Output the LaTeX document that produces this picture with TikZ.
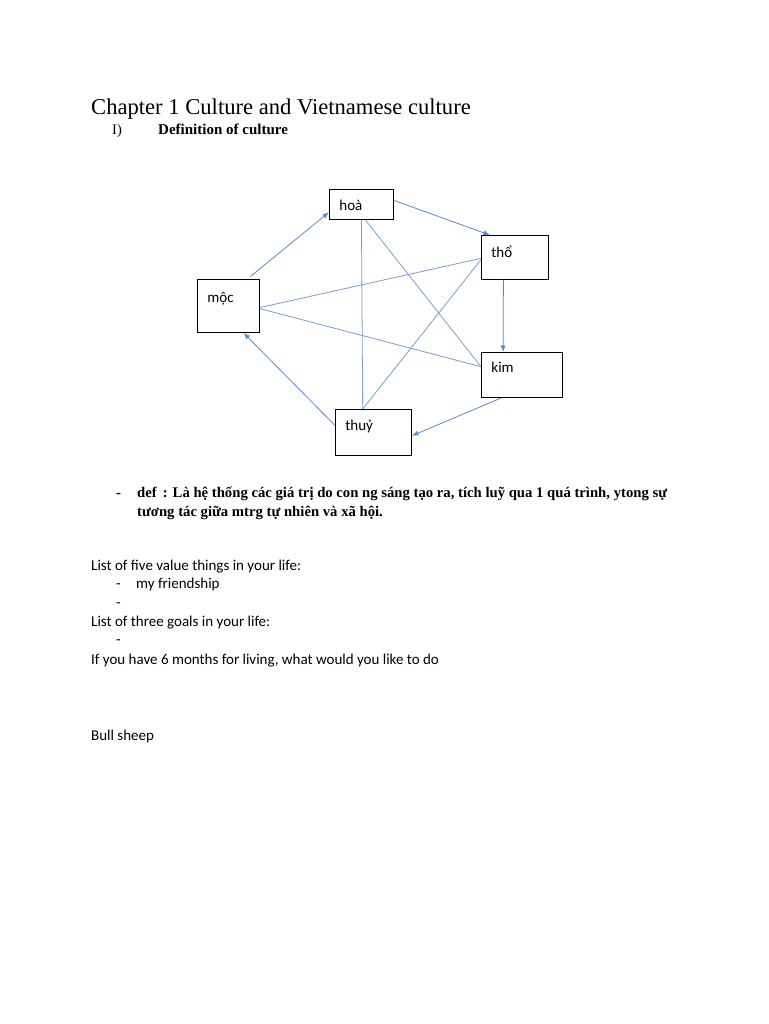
\documentclass[tikz,border=0pt]{standalone}
\usepackage{fontspec}
\setmainfont{Carlito}
\newfontfamily\timesfont{Liberation Serif}
\usetikzlibrary{calc,arrows.meta}
\definecolor{wordblue}{HTML}{4472C4}

\begin{document}
\begin{tikzpicture}[
x=1pt, y=-1pt,
element/.style={
draw,
line width=0.9pt,
anchor=north west,
inner sep=0pt,
inner xsep=10pt,
align=left,
font=\fontsize{15}{18}\selectfont
},
line/.style={
anchor=base west,
inner sep=0pt,
font=\fontsize{15}{18}\selectfont
},
serifline/.style={
anchor=base west,
inner sep=0pt,
font=\timesfont\bfseries\fontsize{14.7}{17}\selectfont
},
link/.style={
draw=wordblue!85,
line width=0.8pt
}
]

\useasboundingbox[fill=white] (0,0) rectangle (768,1024);

\node[anchor=base west, inner sep=0pt, font=\timesfont\fontsize{22.6}{26}\selectfont] (title) at (91,115)
{Chapter 1 Culture and Vietnamese culture};

\node[anchor=base west, inner sep=0pt, font=\timesfont\fontsize{14.5}{17}\selectfont] (num) at (112,135)
{I)};

\node[serifline, font=\timesfont\bfseries\fontsize{15}{17}\selectfont] (head) at (158,135)
{Definition of culture};

\node[element, text width=44pt, text height=21pt, text depth=9pt] (hoa) at (329,189)
{hoà};

\node[element, text width=47pt, text height=22pt, text depth=22pt] (tho) at (481,235)
{thổ};

\node[element, text width=42pt, text height=23pt, text depth=30pt] (moc) at (197,279)
{mộc};

\node[element, text width=61pt, text height=20pt, text depth=25pt] (kim) at (481,352)
{kim};

\node[element, text width=56pt, text height=21pt, text depth=25pt] (thuy) at (335,409)
{thuỷ};

\draw[link, -{Latex[length=6.5pt,width=5pt]}, shorten <=4pt] ($(moc.north west)!0.8!(moc.north east)$) -- ($(hoa.north west)!0.75!(hoa.south west)$);
\draw[link, -{Latex[length=6.5pt,width=5pt]}] ($(hoa.north east)!0.37!(hoa.south east)$) -- ($(tho.north west)!0.13!(tho.north east)$);
\draw[link, -{Latex[length=6.5pt,width=5pt]}] ($(tho.south west)!0.33!(tho.south east)$) -- ($(kim.north west)!0.27!(kim.north east)$);
\draw[link, -{Latex[length=6.5pt,width=5pt]}] ($(kim.south west)!0.25!(kim.south east)$) -- ($(thuy.north east)!0.57!(thuy.south east)$);
\draw[link, -{Latex[length=6.5pt,width=5pt]}] ($(thuy.north west)!0.35!(thuy.south west)$) -- ($(moc.south west)!0.74!(moc.south east)$);

\draw[link, draw=wordblue!70] ($(hoa.south west)!0.5!(hoa.south east)$) -- ($(thuy.north west)!0.36!(thuy.north east)$);
\draw[link, draw=wordblue!70] ($(hoa.south west)!0.56!(hoa.south east)$) -- ($(kim.north west)!0.32!(kim.south west)$);
\draw[link, draw=wordblue!70] ($(moc.north east)!0.53!(moc.south east)$) -- ($(tho.north west)!0.52!(tho.south west)$);
\draw[link, draw=wordblue!70] ($(moc.north east)!0.55!(moc.south east)$) -- ($(kim.north west)!0.32!(kim.south west)$);
\draw[link, draw=wordblue!70] ($(tho.north west)!0.55!(tho.south west)$) -- ($(thuy.north west)!0.36!(thuy.north east)$);

\node[serifline] (dash1) at (116,497)
{-};

\node[serifline] (def1) at (137,497)
{def\, : Là hệ thống các giá trị do con ng sáng tạo ra, tích luỹ qua 1 quá trình, ytong sự};

\node[serifline] (def2) at (137,516)
{tương tác giữa mtrg tự nhiên và xã hội.};

\node[line] (list1) at (91,570)
{List of five value things in your life:};

\node[line] (dash2) at (116,588)
{-};

\node[line] (item1) at (136,588)
{my friendship};

\node[line] (dash3) at (116,607)
{-};

\node[line] (list2) at (91,626)
{List of three goals in your life:};

\node[line] (dash4) at (116,644)
{-};

\node[line] (months) at (91,664)
{If you have 6 months for living, what would you like to do};

\node[line] (bull) at (91,740)
{Bull sheep};

\end{tikzpicture}
\end{document}
